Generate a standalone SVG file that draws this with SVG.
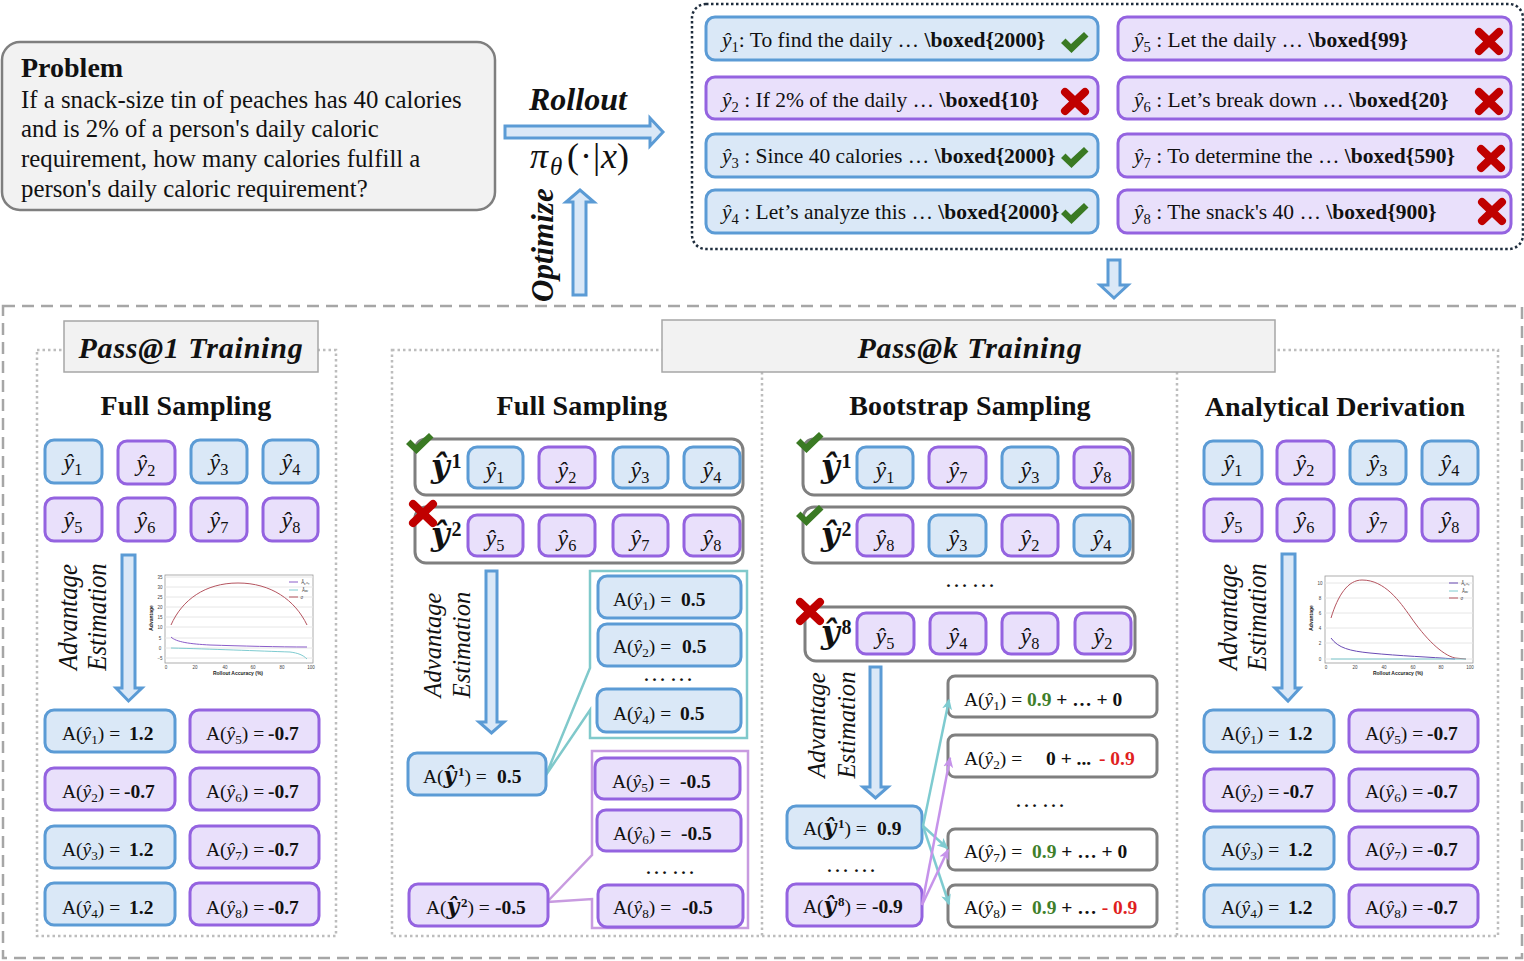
<svg xmlns="http://www.w3.org/2000/svg" width="1524" height="961" viewBox="0 0 1524 961">
<style>
text{font-family:"Liberation Serif","Times New Roman",serif;fill:#111}
.b{fill:#dae8f7;stroke:#5b9bd5;stroke-width:3}
.p{fill:#e9e0fb;stroke:#9463e0;stroke-width:3}
.w{fill:#fff;stroke:#7f7f7f;stroke-width:3}
.big{fill:#dae8f7;stroke:#5b9bd5;stroke-width:3}
.t{font-size:21.5px}
.sm{font-size:24px;text-anchor:middle}
.i{font-style:italic}
.bd{font-weight:bold}
.s{font-size:.68em;font-style:normal}
.v{font-size:19.5px}
.h{font-size:28px;font-weight:bold;text-anchor:middle;letter-spacing:.15px}
.ae{font-size:28px;font-style:italic;text-anchor:middle}
.ae2{font-size:26px;font-style:italic;text-anchor:middle}
.tr{font-size:30px;font-weight:bold;font-style:italic;text-anchor:middle;letter-spacing:.8px}
.dots{font-size:24px;text-anchor:middle;word-spacing:-3px}
.Y{font-family:"DejaVu Serif",serif;font-size:32px;font-weight:bold;font-style:italic;letter-spacing:2px}
.sup{font-family:"Liberation Serif",serif;font-size:20px;font-style:normal}
.Yi{font-family:"DejaVu Serif",serif;font-size:22px;font-weight:bold;font-style:italic;letter-spacing:1.5px}
.supi{font-size:13px;font-weight:bold}
.g{fill:#3f7f2a;font-weight:bold}
.r{fill:#e01f1f;font-weight:bold}
.dotp{fill:none;stroke:#bdbdbd;stroke-width:2.5;stroke-dasharray:2.5 3}
.tick{font-family:"Liberation Sans",Arial,sans-serif;font-size:4.5px;fill:#444;text-anchor:middle}
.axl{font-family:"Liberation Sans",Arial,sans-serif;font-size:5px;font-weight:bold;text-anchor:middle;fill:#222}
.grid{stroke:#e6e6e6;stroke-width:1}
.ax{fill:#fff;stroke:#999;stroke-width:.8}
.cn{fill:none;stroke-width:2.5}
</style>
<defs>
<path id="chk" d="M0 11L4.500 6.500L10 12L23 0L27.500 4.500L10.500 21Z" fill="#3a7a23"/>
<g id="crs" stroke="#c00000" stroke-width="8" stroke-linecap="round"><path d="M4 4L24 23M24 4L4 23" fill="none"/></g>
<marker id="mt" markerWidth="11" markerHeight="10" refX="9.500" refY="5" orient="auto" markerUnits="userSpaceOnUse" viewBox="0 0 11 10"><path d="M0 0L11 5L0 10L3 5Z" fill="#7ecbd0"/></marker>
<marker id="mp" markerWidth="11" markerHeight="10" refX="9.500" refY="5" orient="auto" markerUnits="userSpaceOnUse" viewBox="0 0 11 10"><path d="M0 0L11 5L0 10L3 5Z" fill="#c693ea"/></marker>
</defs>
<rect width="1524" height="961" fill="#fff"/>

<g id="outer-frame"><rect x="3" y="306" width="1519" height="652" fill="none" stroke="#a6a6a6" stroke-width="2.500" stroke-dasharray="12 7"/></g>
<g id="panels">
<rect class="dotp" x="37" y="350" width="299" height="586"/>
<rect class="dotp" x="392" y="350" width="1106" height="586"/>
<path class="dotp" d="M762 372V936M1177 372V936"/>
</g>

<g id="problem"><rect x="2" y="42" width="493" height="168" rx="18" fill="#f2f2f2" stroke="#7f7f7f" stroke-width="2.500"/>
<text x="21" y="77" font-size="28" font-weight="bold">Problem</text>
<text x="21" y="108" font-size="24.800">If a snack-size tin of peaches has 40 calories</text>
<text x="21" y="137" font-size="24.800">and is 2% of a person's daily caloric</text>
<text x="21" y="167" font-size="24.800">requirement, how many calories fulfill a</text>
<text x="21" y="197" font-size="24.800">person's daily caloric requirement?</text></g>

<g id="rollout-label"><text x="529" y="110" font-size="32" font-weight="bold" font-style="italic">Rollout</text></g>
<g id="policy-label"><text y="168" font-size="36"><tspan x="530" font-style="italic">π</tspan><tspan x="550" y="175" font-size="25" font-style="italic">θ</tspan><tspan x="567" y="168">(</tspan><tspan x="580" y="168">·</tspan><tspan x="593" y="168">|</tspan><tspan x="601" y="168" font-style="italic">x</tspan><tspan x="617" y="168">)</tspan></text></g>
<g id="optimize-label"><text transform="translate(553 302) rotate(-90)" font-size="31" font-weight="bold" font-style="italic">Optimize</text></g>

<g id="rollouts">
<rect x="692" y="4" width="831" height="245" rx="14" fill="#fff" stroke="#1f2d3d" stroke-width="2.500" stroke-dasharray="2.500 2.500"/>
<g id="r1"><rect class="b" x="706" y="17" width="392" height="43" rx="9"/><text class="t" x="722" y="47"><tspan class="i">ŷ</tspan><tspan class="s" dy="5">1</tspan><tspan dy="-5">: To find the daily … </tspan><tspan class="bd">\boxed{2000}</tspan></text><use href="#chk" x="1061" y="32"/></g>
<g id="r2"><rect class="p" x="706" y="77" width="392" height="42" rx="9"/><text class="t" x="722" y="107"><tspan class="i">ŷ</tspan><tspan class="s" dy="5">2</tspan><tspan dy="-5"> : If 2% of the daily … </tspan><tspan class="bd">\boxed{10}</tspan></text><use href="#crs" x="1061" y="88"/></g>
<g id="r3"><rect class="b" x="706" y="134" width="392" height="43" rx="9"/><text class="t" x="722" y="163"><tspan class="i">ŷ</tspan><tspan class="s" dy="5">3</tspan><tspan dy="-5"> : Since 40 calories … </tspan><tspan class="bd">\boxed{2000}</tspan></text><use href="#chk" x="1061" y="147"/></g>
<g id="r4"><rect class="b" x="706" y="190" width="392" height="43" rx="9"/><text class="t" x="722" y="219"><tspan class="i">ŷ</tspan><tspan class="s" dy="5">4</tspan><tspan dy="-5"> : Let’s analyze this … </tspan><tspan class="bd">\boxed{2000}</tspan></text><use href="#chk" x="1061" y="203"/></g>
<g id="r5"><rect class="p" x="1118" y="17" width="393" height="43" rx="9"/><text class="t" x="1134" y="47"><tspan class="i">ŷ</tspan><tspan class="s" dy="5">5</tspan><tspan dy="-5"> : Let the daily … </tspan><tspan class="bd">\boxed{99}</tspan></text><use href="#crs" x="1475" y="28"/></g>
<g id="r6"><rect class="p" x="1118" y="77" width="393" height="42" rx="9"/><text class="t" x="1134" y="107"><tspan class="i">ŷ</tspan><tspan class="s" dy="5">6</tspan><tspan dy="-5"> : Let’s break down … </tspan><tspan class="bd">\boxed{20}</tspan></text><use href="#crs" x="1475" y="88"/></g>
<g id="r7"><rect class="p" x="1118" y="134" width="393" height="43" rx="9"/><text class="t" x="1134" y="163"><tspan class="i">ŷ</tspan><tspan class="s" dy="5">7</tspan><tspan dy="-5"> : To determine the … </tspan><tspan class="bd">\boxed{590}</tspan></text><use href="#crs" x="1477" y="145"/></g>
<g id="r8"><rect class="p" x="1118" y="190" width="393" height="43" rx="9"/><text class="t" x="1134" y="219"><tspan class="i">ŷ</tspan><tspan class="s" dy="5">8</tspan><tspan dy="-5"> : The snack's 40 … </tspan><tspan class="bd">\boxed{900}</tspan></text><use href="#crs" x="1478" y="198"/></g>
</g>

<g id="pass1-title"><rect x="64" y="321" width="254" height="51" fill="#f2f2f2" stroke="#a6a6a6" stroke-width="1.500"/><text class="tr" x="191" y="358">Pass@1 Training</text></g>
<g id="passk-title"><rect x="662" y="320" width="613" height="52" fill="#f2f2f2" stroke="#a6a6a6" stroke-width="1.500"/><text class="tr" x="970" y="358">Pass@k Training</text></g>

<g id="headings">
<text class="h" x="186" y="415">Full Sampling</text>
<text class="h" x="582" y="415">Full Sampling</text>
<text class="h" x="970" y="415">Bootstrap Sampling</text>
<text class="h" x="1335" y="416">Analytical Derivation</text>
</g>

<g id="left-grid">
<g id="l1"><rect class="b" x="45" y="440" width="57" height="43" rx="9"/><text class="sm" x="73" y="470"><tspan class="i">ŷ</tspan><tspan class="s" dy="5">1</tspan></text></g>
<g id="l2"><rect class="p" x="118" y="441" width="57" height="43" rx="9"/><text class="sm" x="146" y="471"><tspan class="i">ŷ</tspan><tspan class="s" dy="5">2</tspan></text></g>
<g id="l3"><rect class="b" x="191" y="440" width="56" height="43" rx="9"/><text class="sm" x="219" y="470"><tspan class="i">ŷ</tspan><tspan class="s" dy="5">3</tspan></text></g>
<g id="l4"><rect class="b" x="263" y="440" width="55" height="43" rx="9"/><text class="sm" x="291" y="470"><tspan class="i">ŷ</tspan><tspan class="s" dy="5">4</tspan></text></g>
<g id="l5"><rect class="p" x="45" y="498" width="57" height="43" rx="9"/><text class="sm" x="73" y="528"><tspan class="i">ŷ</tspan><tspan class="s" dy="5">5</tspan></text></g>
<g id="l6"><rect class="p" x="118" y="498" width="57" height="43" rx="9"/><text class="sm" x="146" y="528"><tspan class="i">ŷ</tspan><tspan class="s" dy="5">6</tspan></text></g>
<g id="l7"><rect class="p" x="191" y="498" width="56" height="43" rx="9"/><text class="sm" x="219" y="528"><tspan class="i">ŷ</tspan><tspan class="s" dy="5">7</tspan></text></g>
<g id="l8"><rect class="p" x="263" y="498" width="55" height="43" rx="9"/><text class="sm" x="291" y="528"><tspan class="i">ŷ</tspan><tspan class="s" dy="5">8</tspan></text></g>
</g>
<g id="left-ae"><text class="ae" transform="translate(77 617) rotate(-90) scale(.885 1)">Advantage</text><text class="ae" transform="translate(106 617) rotate(-90) scale(.885 1)">Estimation</text></g>

<g id="chart-left">
<rect class="ax" x="165" y="575" width="148" height="88"/>
<path class="grid" d="M165 577H313M165 587H313M165 597H313M165 607H313M165 617H313M165 627H313M165 638H313M165 648H313M165 658H313"/>
<path d="M171 625C182 600 205 583 238 583C271 583 295 600 307 625" fill="none" stroke="#b5545f" stroke-width="1"/>
<path d="M171 637C176 642 190 644 210 645C240 646 280 647 307 647" fill="none" stroke="#8a5cc9" stroke-width="1"/>
<path d="M171 648C210 649 260 651 290 652C298 653 303 655 307 659" fill="none" stroke="#7ecbd0" stroke-width="1"/>
<g class="tk"><text class="tick" x="160" y="579">35</text><text class="tick" x="160" y="589">30</text><text class="tick" x="160" y="599">25</text><text class="tick" x="160" y="609">20</text><text class="tick" x="160" y="619">15</text><text class="tick" x="160" y="629">10</text><text class="tick" x="160" y="640">5</text><text class="tick" x="160" y="650">0</text><text class="tick" x="160" y="660">−5</text>
<text class="tick" x="166" y="669">0</text><text class="tick" x="195" y="669">20</text><text class="tick" x="225" y="669">40</text><text class="tick" x="253" y="669">60</text><text class="tick" x="282" y="669">80</text><text class="tick" x="311" y="669">100</text></g>
<text class="axl" x="238" y="675">Rollout Accuracy (%)</text>
<text class="axl" transform="translate(153 618) rotate(-90)">Advantage</text>
<path d="M289 582H298" stroke="#8a5cc9"/><path d="M289 590H298" stroke="#7ecbd0"/><path d="M289 597H298" stroke="#b5545f"/>
<text class="tick" x="305" y="584">Âₚₒₛ</text><text class="tick" x="305" y="592">Âₐᵥ</text><text class="tick" x="302" y="599">σ</text>
</g>

<g id="left-values">
<g id="la1"><rect class="b" x="45" y="710" width="130" height="42" rx="9"/><text class="v" x="62" y="740">A(<tspan class="i">ŷ</tspan><tspan class="s" dy="4">1</tspan><tspan dy="-4">) = </tspan><tspan class="bd" x="129">1.2</tspan></text></g>
<g id="la2"><rect class="p" x="45" y="768" width="130" height="42" rx="9"/><text class="v" x="62" y="798">A(<tspan class="i">ŷ</tspan><tspan class="s" dy="4">2</tspan><tspan dy="-4">) = </tspan><tspan class="bd" x="124">-0.7</tspan></text></g>
<g id="la3"><rect class="b" x="45" y="826" width="130" height="42" rx="9"/><text class="v" x="62" y="856">A(<tspan class="i">ŷ</tspan><tspan class="s" dy="4">3</tspan><tspan dy="-4">) = </tspan><tspan class="bd" x="129">1.2</tspan></text></g>
<g id="la4"><rect class="b" x="45" y="883" width="130" height="42" rx="9"/><text class="v" x="62" y="914">A(<tspan class="i">ŷ</tspan><tspan class="s" dy="4">4</tspan><tspan dy="-4">) = </tspan><tspan class="bd" x="129">1.2</tspan></text></g>
<g id="la5"><rect class="p" x="190" y="710" width="129" height="42" rx="9"/><text class="v" x="206" y="740">A(<tspan class="i">ŷ</tspan><tspan class="s" dy="4">5</tspan><tspan dy="-4">) = </tspan><tspan class="bd" x="268">-0.7</tspan></text></g>
<g id="la6"><rect class="p" x="190" y="768" width="129" height="42" rx="9"/><text class="v" x="206" y="798">A(<tspan class="i">ŷ</tspan><tspan class="s" dy="4">6</tspan><tspan dy="-4">) = </tspan><tspan class="bd" x="268">-0.7</tspan></text></g>
<g id="la7"><rect class="p" x="190" y="826" width="129" height="42" rx="9"/><text class="v" x="206" y="856">A(<tspan class="i">ŷ</tspan><tspan class="s" dy="4">7</tspan><tspan dy="-4">) = </tspan><tspan class="bd" x="268">-0.7</tspan></text></g>
<g id="la8"><rect class="p" x="190" y="883" width="129" height="42" rx="9"/><text class="v" x="206" y="914">A(<tspan class="i">ŷ</tspan><tspan class="s" dy="4">8</tspan><tspan dy="-4">) = </tspan><tspan class="bd" x="268">-0.7</tspan></text></g>
</g>

<g id="fs-batch1"><rect class="w" x="415" y="439" width="328" height="56" rx="11"/><text class="Y" x="431" y="477">ŷ<tspan class="sup" dy="-9">1</tspan></text>
<rect class="b" x="468" y="447" width="55" height="41" rx="9"/><text class="sm" x="495" y="478"><tspan class="i">ŷ</tspan><tspan class="s" dy="5">1</tspan></text>
<rect class="p" x="539" y="447" width="56" height="41" rx="9"/><text class="sm" x="567" y="478"><tspan class="i">ŷ</tspan><tspan class="s" dy="5">2</tspan></text>
<rect class="b" x="613" y="447" width="55" height="41" rx="9"/><text class="sm" x="640" y="478"><tspan class="i">ŷ</tspan><tspan class="s" dy="5">3</tspan></text>
<rect class="b" x="684" y="447" width="56" height="41" rx="9"/><text class="sm" x="712" y="478"><tspan class="i">ŷ</tspan><tspan class="s" dy="5">4</tspan></text>
<use href="#chk" x="406" y="433"/></g>
<g id="fs-batch2"><rect class="w" x="415" y="507" width="328" height="56" rx="11"/><text class="Y" x="431" y="545">ŷ<tspan class="sup" dy="-9">2</tspan></text>
<rect class="p" x="468" y="515" width="55" height="41" rx="9"/><text class="sm" x="495" y="546"><tspan class="i">ŷ</tspan><tspan class="s" dy="5">5</tspan></text>
<rect class="p" x="539" y="515" width="56" height="41" rx="9"/><text class="sm" x="567" y="546"><tspan class="i">ŷ</tspan><tspan class="s" dy="5">6</tspan></text>
<rect class="p" x="613" y="515" width="55" height="41" rx="9"/><text class="sm" x="640" y="546"><tspan class="i">ŷ</tspan><tspan class="s" dy="5">7</tspan></text>
<rect class="p" x="684" y="515" width="56" height="41" rx="9"/><text class="sm" x="712" y="546"><tspan class="i">ŷ</tspan><tspan class="s" dy="5">8</tspan></text>
<use href="#crs" x="409" y="500"/></g>
<g id="fs-ae"><text class="ae2" transform="translate(441 645) rotate(-90) scale(.945 1)">Advantage</text><text class="ae2" transform="translate(470 645) rotate(-90) scale(.945 1)">Estimation</text></g>

<g id="teal-callout"><path d="M590 571H747V738H590V710L546 775L590 668Z" fill="#fff" stroke="#80c9cb" stroke-width="2.500"/>
<g id="ft1"><rect class="b" x="598" y="576" width="143" height="42" rx="9"/><text class="v" x="613" y="606">A(<tspan class="i">ŷ</tspan><tspan class="s" dy="4">1</tspan><tspan dy="-4">) = </tspan><tspan class="bd" x="681">0.5</tspan></text></g>
<g id="ft2"><rect class="b" x="598" y="624" width="143" height="42" rx="9"/><text class="v" x="613" y="653">A(<tspan class="i">ŷ</tspan><tspan class="s" dy="4">2</tspan><tspan dy="-4">) = </tspan><tspan class="bd" x="682">0.5</tspan></text></g>
<text class="dots" x="668" y="681">… …</text>
<g id="ft4"><rect class="b" x="597" y="689" width="144" height="43" rx="9"/><text class="v" x="613" y="720">A(<tspan class="i">ŷ</tspan><tspan class="s" dy="4">4</tspan><tspan dy="-4">) = </tspan><tspan class="bd" x="680">0.5</tspan></text></g></g>

<g id="purple-callout"><path d="M592 751H748V928H592V899L547 902L592 855Z" fill="#fff" stroke="#c89be0" stroke-width="2.500"/>
<g id="fp5"><rect class="p" x="595" y="758" width="145" height="41" rx="9"/><text class="v" x="612" y="788">A(<tspan class="i">ŷ</tspan><tspan class="s" dy="4">5</tspan><tspan dy="-4">) = </tspan><tspan class="bd" x="680">-0.5</tspan></text></g>
<g id="fp6"><rect class="p" x="597" y="810" width="144" height="41" rx="9"/><text class="v" x="613" y="840">A(<tspan class="i">ŷ</tspan><tspan class="s" dy="4">6</tspan><tspan dy="-4">) = </tspan><tspan class="bd" x="681">-0.5</tspan></text></g>
<text class="dots" x="670" y="874">… …</text>
<g id="fp8"><rect class="p" x="598" y="885" width="145" height="42" rx="9"/><text class="v" x="613" y="914">A(<tspan class="i">ŷ</tspan><tspan class="s" dy="4">8</tspan><tspan dy="-4">) = </tspan><tspan class="bd" x="682">-0.5</tspan></text></g></g>

<g id="fs-a1"><rect class="b" x="408" y="753" width="138" height="42" rx="9"/><text class="v" x="423" y="783">A(<tspan class="Yi">ŷ</tspan><tspan class="supi" dy="-7">1</tspan><tspan dy="7">) = </tspan><tspan class="bd" x="497">0.5</tspan></text></g>
<g id="fs-a2"><rect class="p" x="409" y="884" width="139" height="42" rx="9"/><text class="v" x="426" y="914">A(<tspan class="Yi">ŷ</tspan><tspan class="supi" dy="-7">2</tspan><tspan dy="7">) = </tspan><tspan class="bd" x="495">-0.5</tspan></text></g>

<g id="bs-batch1"><rect class="w" x="803" y="439" width="330" height="56" rx="11"/><text class="Y" x="821" y="477">ŷ<tspan class="sup" dy="-9">1</tspan></text>
<rect class="b" x="857" y="447" width="56" height="41" rx="9"/><text class="sm" x="885" y="478"><tspan class="i">ŷ</tspan><tspan class="s" dy="5">1</tspan></text>
<rect class="p" x="929" y="447" width="57" height="41" rx="9"/><text class="sm" x="958" y="478"><tspan class="i">ŷ</tspan><tspan class="s" dy="5">7</tspan></text>
<rect class="b" x="1002" y="447" width="56" height="41" rx="9"/><text class="sm" x="1030" y="478"><tspan class="i">ŷ</tspan><tspan class="s" dy="5">3</tspan></text>
<rect class="p" x="1074" y="447" width="56" height="41" rx="9"/><text class="sm" x="1102" y="478"><tspan class="i">ŷ</tspan><tspan class="s" dy="5">8</tspan></text>
<use href="#chk" x="796" y="432"/></g>
<g id="bs-batch2"><rect class="w" x="803" y="507" width="330" height="56" rx="11"/><text class="Y" x="821" y="545">ŷ<tspan class="sup" dy="-9">2</tspan></text>
<rect class="p" x="857" y="515" width="56" height="41" rx="9"/><text class="sm" x="885" y="546"><tspan class="i">ŷ</tspan><tspan class="s" dy="5">8</tspan></text>
<rect class="b" x="929" y="515" width="57" height="41" rx="9"/><text class="sm" x="958" y="546"><tspan class="i">ŷ</tspan><tspan class="s" dy="5">3</tspan></text>
<rect class="p" x="1002" y="515" width="56" height="41" rx="9"/><text class="sm" x="1030" y="546"><tspan class="i">ŷ</tspan><tspan class="s" dy="5">2</tspan></text>
<rect class="b" x="1074" y="515" width="56" height="41" rx="9"/><text class="sm" x="1102" y="546"><tspan class="i">ŷ</tspan><tspan class="s" dy="5">4</tspan></text>
<use href="#chk" x="796" y="505"/></g>
<text class="dots" x="970" y="587">… …</text>
<g id="bs-batch8"><rect class="w" x="805" y="607" width="330" height="54" rx="11"/><text class="Y" x="821" y="643">ŷ<tspan class="sup" dy="-9">8</tspan></text>
<rect class="p" x="857" y="613" width="57" height="41" rx="9"/><text class="sm" x="885" y="644"><tspan class="i">ŷ</tspan><tspan class="s" dy="5">5</tspan></text>
<rect class="p" x="930" y="613" width="56" height="41" rx="9"/><text class="sm" x="958" y="644"><tspan class="i">ŷ</tspan><tspan class="s" dy="5">4</tspan></text>
<rect class="p" x="1002" y="613" width="56" height="41" rx="9"/><text class="sm" x="1030" y="644"><tspan class="i">ŷ</tspan><tspan class="s" dy="5">8</tspan></text>
<rect class="p" x="1075" y="613" width="56" height="41" rx="9"/><text class="sm" x="1103" y="644"><tspan class="i">ŷ</tspan><tspan class="s" dy="5">2</tspan></text>
<use href="#crs" x="796" y="598"/></g>
<g id="bs-ae"><text class="ae2" transform="translate(825 725) rotate(-90) scale(.95 1)">Advantage</text><text class="ae2" transform="translate(855 725) rotate(-90) scale(.95 1)">Estimation</text></g>

<g id="bs-a1"><rect class="b" x="787" y="806" width="135" height="42" rx="9"/><text class="v" x="803" y="835">A(<tspan class="Yi">ŷ</tspan><tspan class="supi" dy="-7">1</tspan><tspan dy="7">) = </tspan><tspan class="bd" x="877">0.9</tspan></text></g>
<text class="dots" x="851" y="872">… …</text>
<g id="bs-a8"><rect class="p" x="787" y="884" width="135" height="42" rx="9"/><text class="v" x="803" y="913">A(<tspan class="Yi">ŷ</tspan><tspan class="supi" dy="-7">8</tspan><tspan dy="7">) = </tspan><tspan class="bd" x="872">-0.9</tspan></text></g>

<g id="bs-y1"><rect class="w" x="948" y="676" width="209" height="41" rx="7"/><text class="v" x="964" y="706">A(<tspan class="i">ŷ</tspan><tspan class="s" dy="4">1</tspan><tspan dy="-4">) = </tspan><tspan class="g" x="1027">0.9</tspan><tspan class="bd"> + …  + 0</tspan></text></g>
<g id="bs-y2"><rect class="w" x="948" y="735" width="209" height="42" rx="7"/><text class="v" x="964" y="765">A(<tspan class="i">ŷ</tspan><tspan class="s" dy="4">2</tspan><tspan dy="-4">) = </tspan><tspan class="bd" x="1046">0 + ...</tspan><tspan class="r" x="1099">- 0.9</tspan></text></g>
<text class="dots" x="1040" y="807">… …</text>
<g id="bs-y7"><rect class="w" x="948" y="829" width="209" height="41" rx="7"/><text class="v" x="964" y="858">A(<tspan class="i">ŷ</tspan><tspan class="s" dy="4">7</tspan><tspan dy="-4">) = </tspan><tspan class="g" x="1032">0.9</tspan><tspan class="bd"> + … + 0</tspan></text></g>
<g id="bs-y8"><rect class="w" x="948" y="885" width="209" height="42" rx="7"/><text class="v" x="964" y="914">A(<tspan class="i">ŷ</tspan><tspan class="s" dy="4">8</tspan><tspan dy="-4">) = </tspan><tspan class="g" x="1032">0.9</tspan><tspan class="bd"> + … </tspan><tspan class="r">- 0.9</tspan></text></g>

<g id="right-grid">
<g id="g1"><rect class="b" x="1204" y="441" width="58" height="43" rx="9"/><text class="sm" x="1233" y="471"><tspan class="i">ŷ</tspan><tspan class="s" dy="5">1</tspan></text></g>
<g id="g2"><rect class="p" x="1277" y="441" width="57" height="43" rx="9"/><text class="sm" x="1305" y="471"><tspan class="i">ŷ</tspan><tspan class="s" dy="5">2</tspan></text></g>
<g id="g3"><rect class="b" x="1350" y="441" width="56" height="43" rx="9"/><text class="sm" x="1378" y="471"><tspan class="i">ŷ</tspan><tspan class="s" dy="5">3</tspan></text></g>
<g id="g4"><rect class="b" x="1422" y="441" width="56" height="43" rx="9"/><text class="sm" x="1450" y="471"><tspan class="i">ŷ</tspan><tspan class="s" dy="5">4</tspan></text></g>
<g id="g5"><rect class="p" x="1204" y="499" width="58" height="42" rx="9"/><text class="sm" x="1233" y="528"><tspan class="i">ŷ</tspan><tspan class="s" dy="5">5</tspan></text></g>
<g id="g6"><rect class="p" x="1277" y="499" width="57" height="42" rx="9"/><text class="sm" x="1305" y="528"><tspan class="i">ŷ</tspan><tspan class="s" dy="5">6</tspan></text></g>
<g id="g7"><rect class="p" x="1350" y="499" width="56" height="42" rx="9"/><text class="sm" x="1378" y="528"><tspan class="i">ŷ</tspan><tspan class="s" dy="5">7</tspan></text></g>
<g id="g8"><rect class="p" x="1422" y="499" width="56" height="42" rx="9"/><text class="sm" x="1450" y="528"><tspan class="i">ŷ</tspan><tspan class="s" dy="5">8</tspan></text></g>
</g>
<g id="right-ae"><text class="ae" transform="translate(1237 617) rotate(-90) scale(.885 1)">Advantage</text><text class="ae" transform="translate(1266 617) rotate(-90) scale(.885 1)">Estimation</text></g>

<g id="chart-right">
<rect class="ax" x="1325" y="576" width="148" height="87"/>
<path class="grid" d="M1325 583H1473M1325 598H1473M1325 613H1473M1325 628H1473M1325 643H1473M1325 659H1473"/>
<path d="M1331 618C1338 595 1348 580 1362 580C1385 580 1400 602 1410 616C1425 638 1442 655 1455 658L1466 659" fill="none" stroke="#b5545f" stroke-width="1"/>
<path d="M1331 638C1338 648 1350 651 1370 653C1400 656 1430 657 1455 659" fill="none" stroke="#6a4bb5" stroke-width="1"/>
<path d="M1331 659H1466" fill="none" stroke="#7ecbd0" stroke-width="1"/>
<g><text class="tick" x="1320" y="585">10</text><text class="tick" x="1320" y="600">8</text><text class="tick" x="1320" y="615">6</text><text class="tick" x="1320" y="630">4</text><text class="tick" x="1320" y="645">2</text><text class="tick" x="1320" y="661">0</text>
<text class="tick" x="1326" y="669">0</text><text class="tick" x="1355" y="669">20</text><text class="tick" x="1384" y="669">40</text><text class="tick" x="1413" y="669">60</text><text class="tick" x="1441" y="669">80</text><text class="tick" x="1470" y="669">100</text></g>
<text class="axl" x="1398" y="675">Rollout Accuracy (%)</text>
<text class="axl" transform="translate(1313 618) rotate(-90)">Advantage</text>
<path d="M1449 583H1458" stroke="#6a4bb5"/><path d="M1449 591H1458" stroke="#7ecbd0"/><path d="M1449 598H1458" stroke="#b5545f"/>
<text class="tick" x="1465" y="585">Âₚₒₛ</text><text class="tick" x="1465" y="593">Âₐᵥ</text><text class="tick" x="1462" y="600">σ</text>
</g>

<g id="right-values">
<g id="ra1"><rect class="b" x="1204" y="710" width="130" height="42" rx="9"/><text class="v" x="1221" y="740">A(<tspan class="i">ŷ</tspan><tspan class="s" dy="4">1</tspan><tspan dy="-4">) = </tspan><tspan class="bd" x="1288">1.2</tspan></text></g>
<g id="ra2"><rect class="p" x="1204" y="769" width="130" height="42" rx="9"/><text class="v" x="1221" y="798">A(<tspan class="i">ŷ</tspan><tspan class="s" dy="4">2</tspan><tspan dy="-4">) = </tspan><tspan class="bd" x="1283">-0.7</tspan></text></g>
<g id="ra3"><rect class="b" x="1204" y="827" width="130" height="42" rx="9"/><text class="v" x="1221" y="856">A(<tspan class="i">ŷ</tspan><tspan class="s" dy="4">3</tspan><tspan dy="-4">) = </tspan><tspan class="bd" x="1288">1.2</tspan></text></g>
<g id="ra4"><rect class="b" x="1204" y="885" width="130" height="42" rx="9"/><text class="v" x="1221" y="914">A(<tspan class="i">ŷ</tspan><tspan class="s" dy="4">4</tspan><tspan dy="-4">) = </tspan><tspan class="bd" x="1288">1.2</tspan></text></g>
<g id="ra5"><rect class="p" x="1349" y="710" width="129" height="42" rx="9"/><text class="v" x="1365" y="740">A(<tspan class="i">ŷ</tspan><tspan class="s" dy="4">5</tspan><tspan dy="-4">) = </tspan><tspan class="bd" x="1427">-0.7</tspan></text></g>
<g id="ra6"><rect class="p" x="1349" y="769" width="129" height="42" rx="9"/><text class="v" x="1365" y="798">A(<tspan class="i">ŷ</tspan><tspan class="s" dy="4">6</tspan><tspan dy="-4">) = </tspan><tspan class="bd" x="1427">-0.7</tspan></text></g>
<g id="ra7"><rect class="p" x="1349" y="827" width="129" height="42" rx="9"/><text class="v" x="1365" y="856">A(<tspan class="i">ŷ</tspan><tspan class="s" dy="4">7</tspan><tspan dy="-4">) = </tspan><tspan class="bd" x="1427">-0.7</tspan></text></g>
<g id="ra8"><rect class="p" x="1349" y="885" width="129" height="42" rx="9"/><text class="v" x="1365" y="914">A(<tspan class="i">ŷ</tspan><tspan class="s" dy="4">8</tspan><tspan dy="-4">) = </tspan><tspan class="bd" x="1427">-0.7</tspan></text></g>
</g>

<g id="connectors">
<path class="big" d="M505 126H650V118L663 132L650 146V138H505Z"/>
<path class="big" d="M573 295V202H566L580 190L594 202H586V295Z"/>
<path class="big" d="M1108 260H1120V285H1128L1114 298L1100 285H1108Z"/>
<path class="big" d="M122 555H135V688H142L128.500 701L116 688H122Z"/>
<path class="big" d="M486 571H497V722H504L491.500 733L479 722H486Z"/>
<path class="big" d="M870 667H881V787H888L875.500 798L863 787H870Z"/>
<path class="big" d="M1282 554H1295V688H1300L1288 701L1275 688H1282Z"/>
<path class="cn" stroke="#7ecbd0" marker-end="url(#mt)" d="M923 826L949 700"/>
<path class="cn" stroke="#7ecbd0" marker-end="url(#mt)" d="M923 826L947 848"/>
<path class="cn" stroke="#7ecbd0" marker-end="url(#mt)" d="M923 826L949 904"/>
<path class="cn" stroke="#c693ea" marker-end="url(#mp)" d="M922 905L950 758"/>
<path class="cn" stroke="#c693ea" marker-end="url(#mp)" d="M922 905L948 850"/>
</g>
</svg>
